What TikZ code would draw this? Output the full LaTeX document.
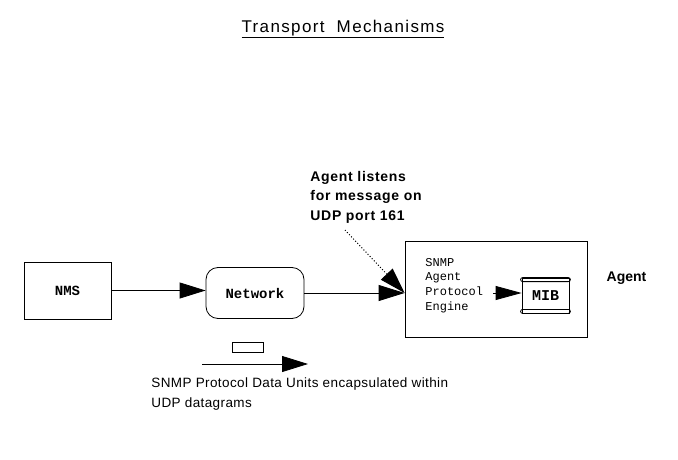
\documentclass[tikz,border=0pt]{standalone}
\usepackage{fontspec}
\setmainfont{Liberation Sans}
\setmonofont{Liberation Mono}
\usetikzlibrary{arrows.meta,positioning}

\begin{document}
\begin{tikzpicture}[x=1pt, y=1pt, line width=0.8pt,
    box/.style={draw, inner sep=0pt, font=\ttfamily\bfseries\fontsize{14}{16}\selectfont},
    bigarrow/.style={-{Triangle[length=26pt, width=16pt]}},
    label/.style={inner sep=0pt, anchor=west, align=left}]
        \useasboundingbox (0,0) rectangle (678,459);
        % title
        \node[inner sep=0pt, font=\fontsize{17}{19}\selectfont\addfontfeature{LetterSpace=8}] (title) at (343,430) {\underline{Transport\ \ Mechanisms}};
        % nodes
        \node[box, minimum width=87pt, minimum height=57pt] (nms) at (67.5,168.5) {NMS};
        \node[box, rounded corners=12pt, minimum width=98pt, minimum height=51pt] (net) at (255,166) {Network};
        \node[draw, minimum width=182pt, minimum height=96pt] (agent) at (496,170) {};
        \node[label, font=\ttfamily\fontsize{12}{14.7}\selectfont] (engine) at (425,173.5) {SNMP\\Agent\\Protocol\\Engine};
        \node[box, minimum width=47pt, minimum height=35pt, font=\ttfamily\bfseries\fontsize{15}{16}\selectfont] (mib) at (545.5,163.5) {MIB};
        \draw[rounded corners=2pt] ([xshift=-1pt]mib.north west) rectangle ([xshift=1pt, yshift=-4pt]mib.north east);
        \draw[rounded corners=2pt] ([xshift=-1pt, yshift=4pt]mib.south west) rectangle ([xshift=1pt]mib.south east);
        \node[inner sep=0pt, font=\bfseries\fontsize{14}{16}\selectfont] (agentlbl) at (626.5,181) {Agent};
        \node[label, font=\bfseries\fontsize{14}{19.5}\selectfont\addfontfeature{LetterSpace=5}] (listens) at (310,262) {Agent listens\\for message on\\UDP port 161};
        \node[draw, minimum width=31pt, minimum height=10pt, inner sep=0pt] (pdu) at (247.5,112) {};
        \node[label, font=\fontsize{13.5}{20}\selectfont\addfontfeature{LetterSpace=3}] (caption) at (151,65) {SNMP Protocol Data Units encapsulated within\\UDP datagrams};
        % connectors
        \coordinate (tip) at (net.east -| agent.west);
        \coordinate (lsrc) at (345,229);
        \coordinate (pout) at (493,166);
        \coordinate (ua) at (202,95);
        \coordinate (ub) at (308,95);
        \draw[bigarrow] (nms.east) -- (nms.east -| net.west);
        \draw[bigarrow] (net.east) -- (tip);
        \draw[bigarrow, dotted, line width=1pt] (lsrc) -- (tip);
        \draw[-{Triangle[length=26pt, width=14pt]}] (pout) -- (pout -| mib.west);
        \draw[bigarrow] (ua) -- (ub);
      \end{tikzpicture}
\end{document}
